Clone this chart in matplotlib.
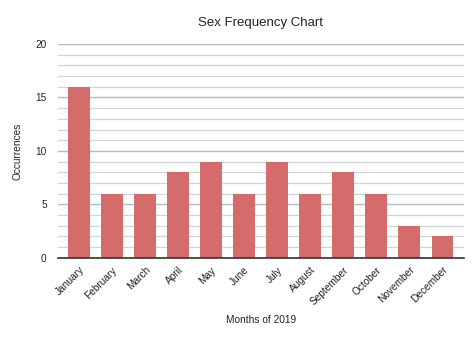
import matplotlib
matplotlib.use("Agg")
import matplotlib.pyplot as plt
from matplotlib.ticker import MultipleLocator

months = ["January", "February", "March", "April", "May", "June", "July",
          "August", "September", "October", "November", "December"]
occurrences = [16, 6, 6, 8, 9, 6, 9, 6, 8, 6, 3, 2]

plt.rcParams['font.family'] = ['Liberation Sans', 'DejaVu Sans']

fig = plt.figure(figsize=(4.74, 3.38), dpi=100)
ax = fig.add_axes([0.122, 0.237, 0.857, 0.633])

ax.bar(range(len(months)), occurrences, width=0.65, color='#d46c6b', zorder=3)

ax.set_ylim(0, 20)
ax.set_xlim(-0.64, 11.66)
ax.yaxis.set_major_locator(MultipleLocator(5))
ax.yaxis.set_minor_locator(MultipleLocator(1))
ax.grid(axis='y', which='major', color='#b8b8b8', linewidth=1.0, zorder=0)
ax.grid(axis='y', which='minor', color='#d4d4d4', linewidth=0.9, zorder=0)

for s in ['top', 'right', 'left']:
    ax.spines[s].set_visible(False)
ax.spines['bottom'].set_color('#333333')
ax.spines['bottom'].set_linewidth(1.2)
ax.spines['bottom'].set_zorder(4)

ax.set_xticks(range(len(months)))
ax.set_xticklabels(months, rotation=45, ha='right', rotation_mode='anchor', fontsize=7.3, color='#222222')
ax.tick_params(axis='x', length=0, pad=5)
ax.tick_params(axis='y', which='both', length=0, labelsize=7.3, labelcolor='#222222', pad=8)

ax.set_title("Sex Frequency Chart", fontsize=9.5, color='#222222', pad=13)
ax.set_xlabel("Months of 2019", fontsize=7.3, color='#222222', labelpad=6)
ax.set_ylabel("Occurrences", fontsize=7.3, color='#222222', labelpad=9)

fig.savefig("out.png", dpi=100)
